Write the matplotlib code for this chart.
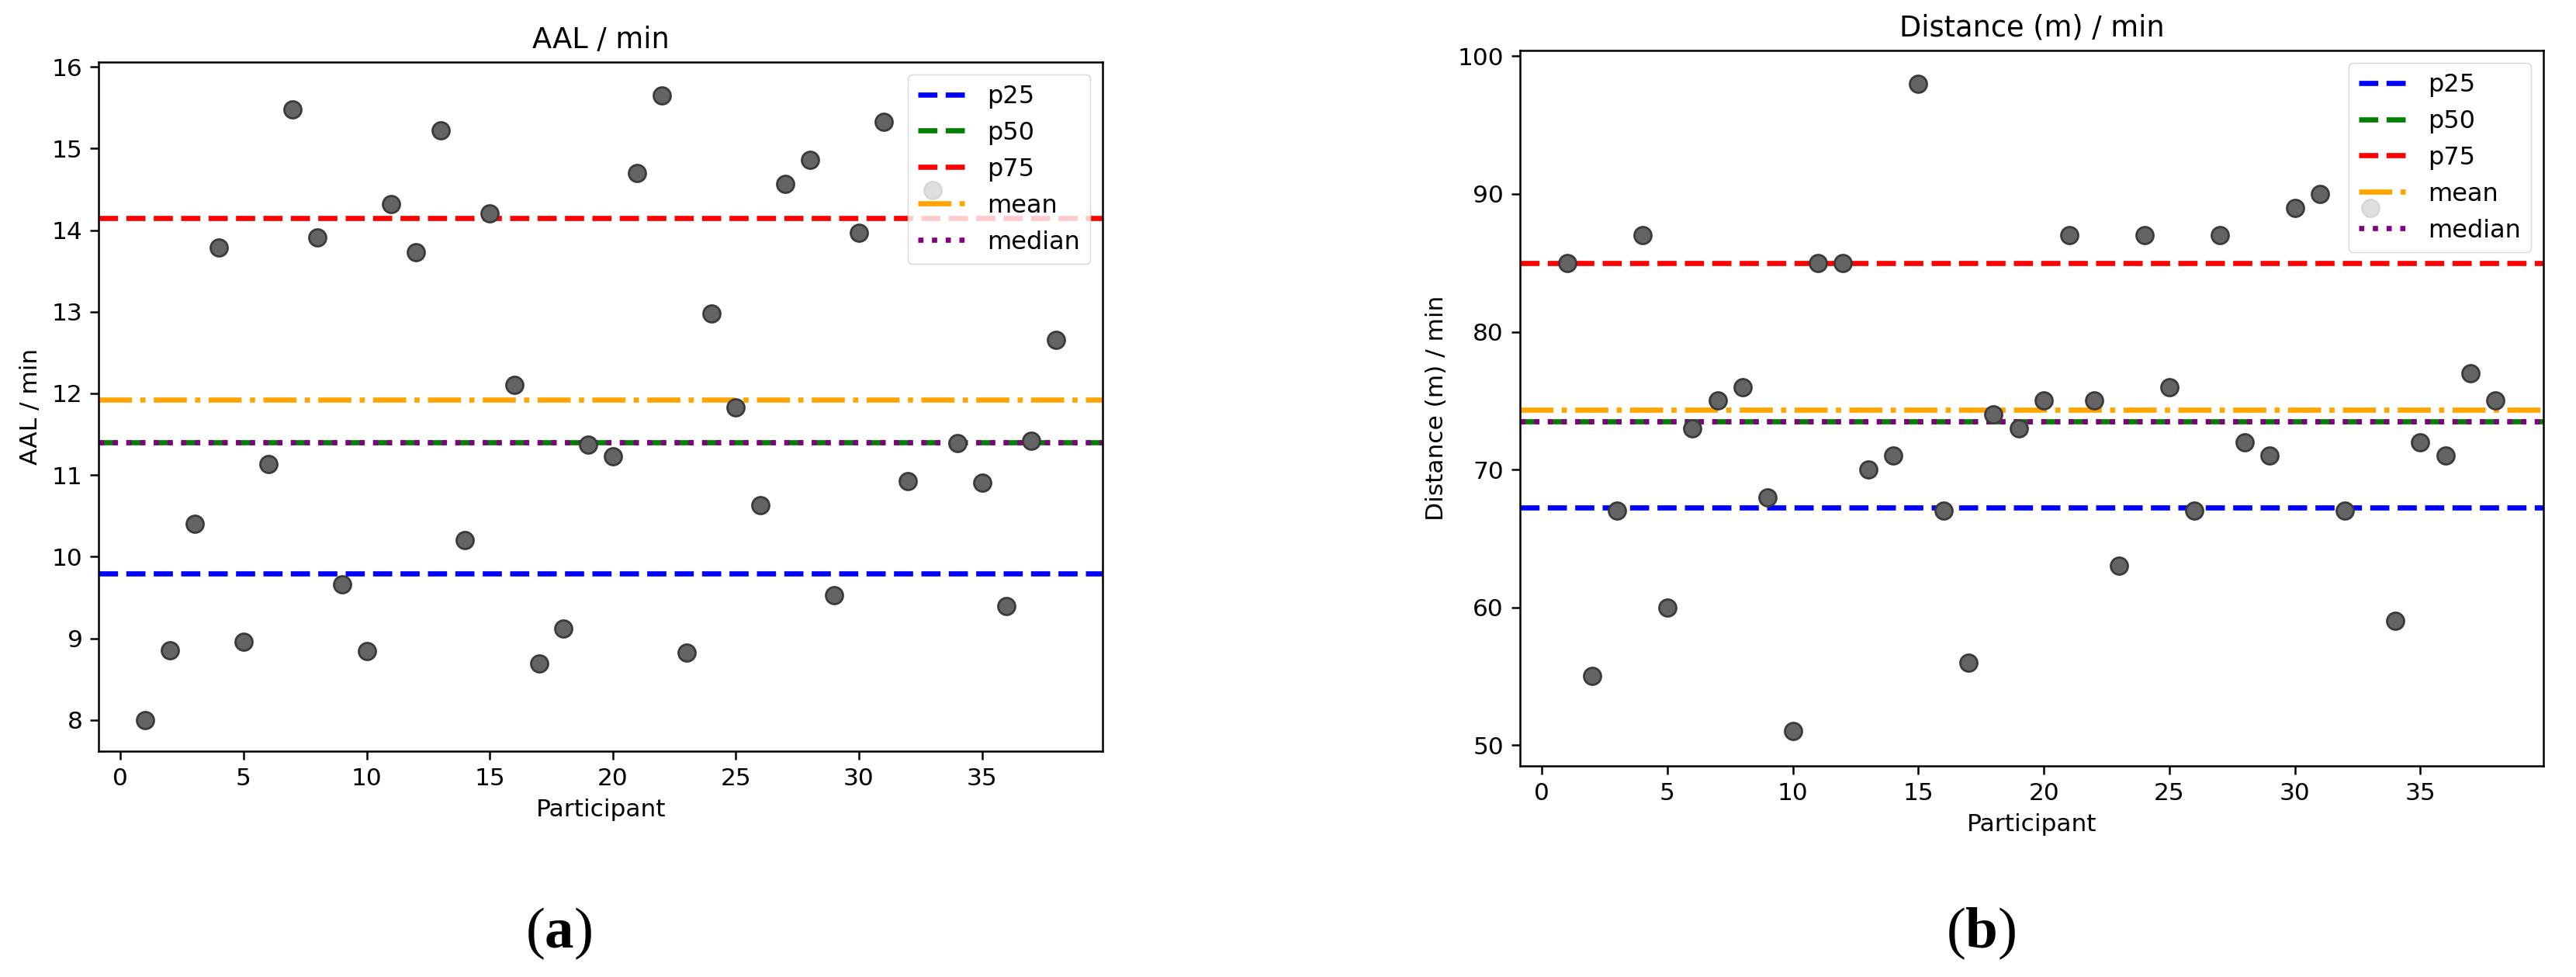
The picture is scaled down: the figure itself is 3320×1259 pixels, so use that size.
import numpy as np
import matplotlib
matplotlib.use("Agg")
import matplotlib.pyplot as plt

participants = list(range(1, 39))

aal_per_min = [8.00, 8.85, 10.40, 13.79, 8.96, 11.13, 15.48, 13.91, 9.66, 8.84,
               14.32, 13.73, 15.22, 10.20, 14.21, 12.10, 8.69, 9.12, 11.37, 11.23,
               14.70, 15.65, 8.82, 12.98, 11.83, 10.63, 14.57, 14.86, 9.53, 13.97,
               15.33, 10.93, 14.49, 11.39, 10.91, 9.39, 11.42, 12.66]

distance_per_min = [85, 55, 67, 87, 60, 73, 75, 76, 68, 51,
                    85, 85, 70, 71, 98, 67, 56, 74, 73, 75,
                    87, 75, 63, 87, 76, 67, 87, 72, 71, 89,
                    90, 67, 89, 59, 72, 71, 77, 75]

titles = ["AAL / min", "Distance (m) / min"]
captions = ["a", "b"]

plt.rcParams["mathtext.fontset"] = "custom"
plt.rcParams["mathtext.rm"] = "Liberation Serif"
plt.rcParams["mathtext.bf"] = "Liberation Serif:bold"

fig = plt.figure(figsize=(33.2, 12.59), dpi=100)

positions = [[0.0384, 0.2314, 0.3896, 0.7051],
             [0.5900, 0.2162, 0.3973, 0.7322]]
ylims = [(7.62, 16.06), (48.5, 100.42)]
caption_x = [0.2169, 0.769]

fs = 22.5


def draw_panel(ax, values, title, ylim):
    vals = np.array(values)
    ax.scatter(participants, vals, s=250, facecolor="#646464",
               edgecolor="#3a3a3a", linewidth=2.0, zorder=3)
    lw = 4.8
    ax.axhline(np.percentile(vals, 25), color="blue", ls="--", lw=lw, label="p25")
    ax.axhline(np.percentile(vals, 50), color="green", ls="--", lw=lw, label="p50")
    ax.axhline(np.percentile(vals, 75), color="red", ls="--", lw=lw, label="p75")
    ax.axhline(vals.mean(), color="orange", ls="-.", lw=lw, label="mean")
    ax.axhline(np.median(vals), color="purple", ls=":", lw=lw, label="median")
    ax.set_xlim(-0.88, 39.9)
    ax.set_ylim(*ylim)
    ax.set_xticks([0, 5, 10, 15, 20, 25, 30, 35])
    ax.set_title(title, fontsize=26.5, pad=13)
    ax.set_xlabel("Participant", fontsize=fs, labelpad=8)
    ax.set_ylabel(title, fontsize=fs, labelpad=9)
    ax.tick_params(labelsize=fs, length=8, width=1.8, pad=7)
    for sp in ax.spines.values():
        sp.set_linewidth(1.8)
    ax.legend(loc="upper right", fontsize=23, handlelength=2.0,
              borderaxespad=0.5, framealpha=0.8)


for i, vals in enumerate([aal_per_min, distance_per_min]):
    ax = fig.add_axes(positions[i])
    draw_panel(ax, vals, titles[i], ylims[i])
    fig.text(caption_x[i], 0.0445, "($\\mathbf{" + captions[i] + "}$)",
             fontsize=54, family="Liberation Serif", ha="center", va="center")

fig.savefig("out.png", dpi=100, facecolor="white")
